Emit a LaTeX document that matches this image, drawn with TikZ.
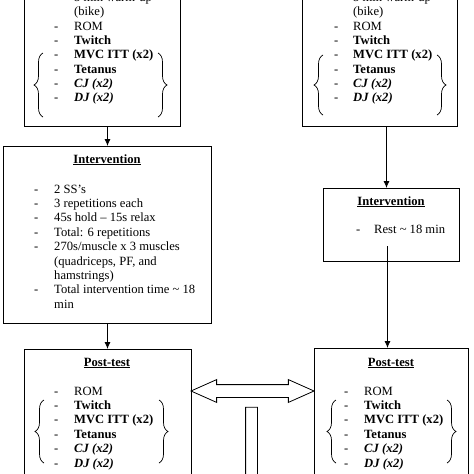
\documentclass[tikz,border=0pt]{standalone}
\usepackage{fontspec}
\setmainfont{Liberation Serif}
\usetikzlibrary{arrows.meta,shapes.arrows,decorations.pathreplacing}
\begin{document}
\begin{tikzpicture}[x=1pt,y=-1pt,
    box/.style={draw, line width=1pt, inner sep=0pt, anchor=north west},
    txt/.style={anchor=base west, inner sep=0pt, font=\fontsize{12.6}{14.4}\selectfont},
    ttl/.style={anchor=base, inner sep=0pt, font=\fontsize{12.6}{14.4}\selectfont\bfseries},
    arr/.style={line width=0.8pt, -{Latex[length=7pt,width=6pt]}},
    brc/.style={decorate, decoration={brace, amplitude=9pt}, line width=0.7pt}]
        \clip (0,0) rectangle (474,474);

        \node[box, minimum width=156pt, minimum height=156pt] (pre1) at (24,-30) {};
        \node[box, minimum width=155pt, minimum height=156pt] (pre2) at (302,-30) {};
        \node[box, minimum width=208pt, minimum height=177pt] (int1) at (3,146) {};
        \node[box, minimum width=136pt, minimum height=73pt] (int2) at (323,188) {};
        \node[box, minimum width=167pt, minimum height=160pt] (post1) at (24,349) {};
        \node[box, minimum width=154pt, minimum height=160pt] (post2) at (314,348) {};

        \foreach \bx/\dx/\n in {74/54/1, 353/334/2} {
            \foreach \t [count=\i from 0] in {5 min warm-up, (bike), ROM, \textbf{Twitch}, \textbf{MVC ITT (x2)}, \textbf{Tetanus}, \textbf{\textit{CJ (x2)}}, \textbf{\textit{DJ (x2)}}}
                \node[txt] (pa\n-\i) at (\bx, 1.6+14.3*\i) {\t};
            \foreach \i in {0,2,3,4,5,6,7}
                \node[txt] (pad\n-\i) at (\dx, 1.6+14.3*\i) {-};
        }
        \draw[brc] (43,117) -- (43,53);
        \draw[brc] (158,53) -- (158,117);
        \draw[brc] (323,115) -- (323,55);
        \draw[brc] (437,55) -- (437,115);

        \node[ttl] (ti1) at (107,163) {\underline{Intervention}};
        \foreach \t [count=\i from 0] in {2 SS’s, 3 repetitions each, 45s hold -- 15s relax, Total: 6 repetitions, 270s/muscle x 3 muscles, {(quadriceps, PF, and}, hamstrings), Total intervention time \textasciitilde{} 18, min}
            \node[txt] (ia\i) at (54, 193+14.4*\i) {\t};
        \foreach \i in {0,1,2,3,4,7}
            \node[txt] (iad\i) at (34, 193+14.4*\i) {-};

        \node[ttl] (ti2) at (391,205) {\underline{Intervention}};
        \node[txt] (ib0) at (374,233) {Rest \textasciitilde{} 18 min};
        \node[txt] (ibd0) at (356,233) {-};

        \foreach \cx/\bx/\dx/\n in {107/74/54/1, 391/364/344/2} {
            \node[ttl] (tp\n) at (\cx,366) {\underline{Post-test}};
            \foreach \t [count=\i from 0] in {ROM, \textbf{Twitch}, \textbf{MVC ITT (x2)}, \textbf{Tetanus}, \textbf{\textit{CJ (x2)}}, \textbf{\textit{DJ (x2)}}} {
                \node[txt] (pb\n-\i) at (\bx, 395+14.4*\i) {\t};
                \node[txt] (pbd\n-\i) at (\dx, 395+14.4*\i) {-};
            }
        }
        \draw[brc] (44,463) -- (44,400);
        \draw[brc] (159,400) -- (159,463);
        \draw[brc] (336,463) -- (336,400);
        \draw[brc] (447,400) -- (447,463);

        \draw[arr] (int1.north |- pre1.south) -- (int1.north);
        \draw[arr] (int1.south) -- (int1.south |- post1.north);
        \draw[arr] ([xshift=-5pt]int2.north |- pre2.south) -- ([xshift=-5pt]int2.north);
        \draw[arr] ([xshift=-4pt,yshift=16pt]int2.south) -- ([xshift=-4pt]int2.south |- post2.north);

        \node[double arrow, draw, line width=0.8pt, minimum height=123pt, inner sep=6pt, double arrow head extend=5pt, double arrow tip angle=48] (link) at (252.5,391) {};
        \node[single arrow, draw, line width=0.8pt, shape border rotate=270, minimum height=91pt, inner sep=5.5pt, single arrow head extend=4.5pt, single arrow tip angle=50] (down) at (251.5,446.5) {};
\end{tikzpicture}
\end{document}
